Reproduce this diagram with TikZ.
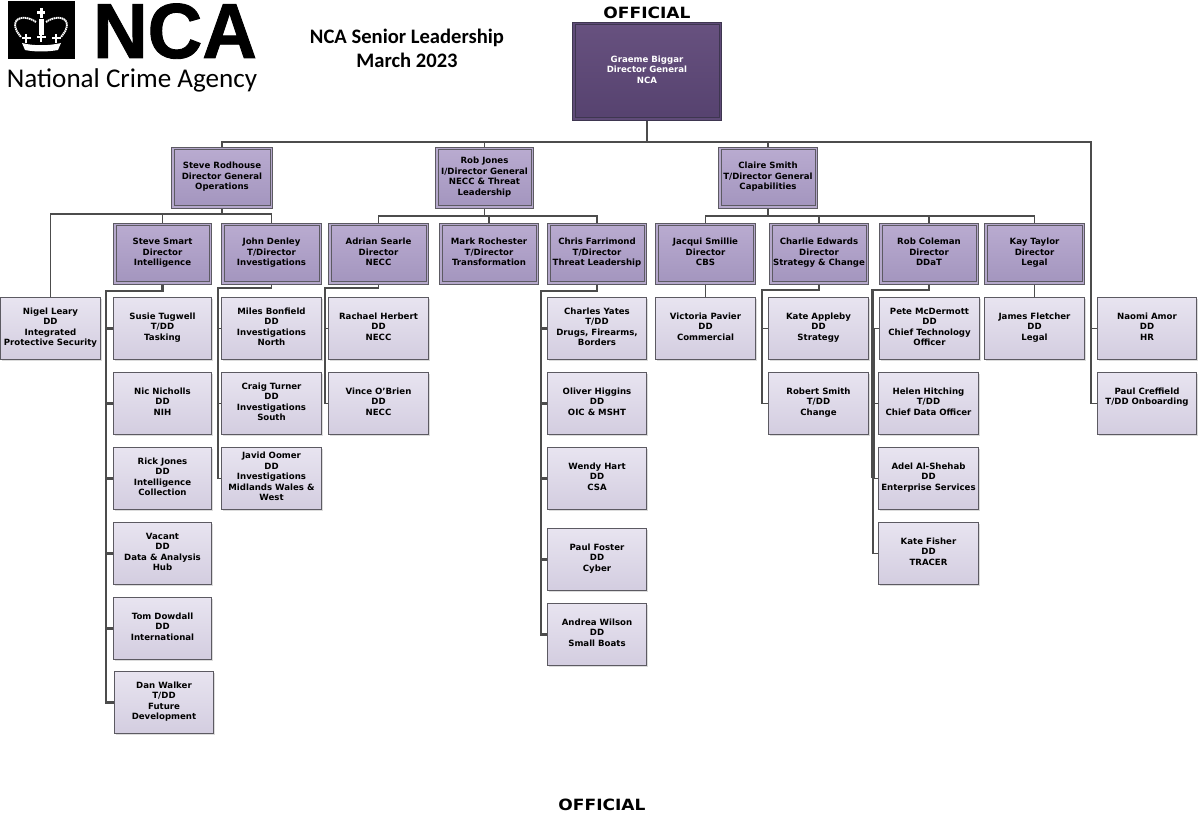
\documentclass[tikz,border=0pt]{standalone}
\usepackage{fontspec}
\usetikzlibrary{shadows,backgrounds}
\setmainfont{DejaVu Sans}
\newfontfamily\calib{Carlito}
\newfontfamily\heavy[FakeBold=1.2]{Liberation Sans Bold}
\definecolor{conncol}{HTML}{4C4C4C}
\definecolor{edge}{HTML}{5C5A62}
\tikzset{
 x=1pt,y=-1pt,
 conn/.style={draw=conncol,line width=1.5pt},
 connb/.style={draw=conncol,line width=2.1pt},
 base/.style={inner sep=0pt,align=center,font=\bfseries\fontsize{8.6}{10.5}\selectfont,
   drop shadow={shadow xshift=1.5pt,shadow yshift=-1.5pt,fill=black!45,opacity=.3}},
 leafbox/.style={base,draw=edge,line width=1pt,top color=leaftop,bottom color=leafbot},
 dirbox/.style={base,draw=edge,line width=1pt,double=dirband,double distance=1.5pt,top color=dirtop,bottom color=dirbot},
 dgbox/.style={base,draw=dgedge,line width=1pt,double=dgband,double distance=1.5pt,top color=dgtop,bottom color=dgbot,text=white},
}
\definecolor{leaftop}{HTML}{E8E4F0}
\definecolor{leafbot}{HTML}{D3CDE0}
\definecolor{dirtop}{HTML}{B9ABD0}
\definecolor{dirbot}{HTML}{A395BE}
\definecolor{dirband}{HTML}{B5A8CB}
\definecolor{dgtop}{HTML}{67517F}
\definecolor{dgbot}{HTML}{56426F}
\definecolor{dgband}{HTML}{5F4B78}
\definecolor{dgedge}{HTML}{3E3650}
\newcommand\tx[1]{\begin{tabular}{@{}c@{}}#1\\[1.6pt]\end{tabular}}
\newcommand\bx[8]{\node[#1,minimum width={(#6-#4-#2)*1pt},minimum height={(#7-#5-#2)*1pt}] (#3) at ({(#4+#6)/2},{(#5+#7)/2}) {\tx{#8}};}
\newcommand\dbx[7][dirbox]{\bx{#1}{3.5}{#2}{#3}{#4}{#5}{#6}{#7}}
\newcommand\lbx[6]{\bx{leafbox}{1}{#1}{#2}{#3}{#4}{#5}{#6}}
\newcommand\rep[5][conn]{\draw[#1] (#2.south) -- (#2.south |- 0,#3) -- (#4,#3) |- (#5.west);}
\newcommand\drp[3]{\draw[conn] (#1.south) -- (#1.south |- 0,#2) -| (#3.north);}
\begin{document}
\begin{tikzpicture}
\useasboundingbox (0,0) rectangle (1200,818);
% logo
\fill[black] (8,1) rectangle (75,59);
\begin{scope}[white]
 \fill (39.5,8) rectangle (42.5,18);
 \fill (37,11) rectangle (45,14);
 \fill (38.5,19) rectangle (43.5,35);
 \draw[line width=1.9pt,dash pattern=on 1.5pt off .6pt] (36,22) .. controls (29,17) and (17,15) .. (15,24) .. controls (15,30) and (18,33) .. (21,37);
 \draw[line width=1.9pt,dash pattern=on 1.5pt off .6pt] (46,22) .. controls (53,17) and (65,15) .. (67,24) .. controls (67,30) and (64,33) .. (61,37);
 \fill (22,43) .. controls (33,46) and (49,46) .. (61,43) -- (58,50) .. controls (47,52) and (35,52) .. (25,50) -- cycle;
 \foreach \cx/\cy in {26/38,41/37,56/38}{
   \fill (\cx-1.2,\cy-3.5) rectangle (\cx+1.2,\cy+5);
   \fill (\cx-4.5,\cy-1) rectangle (\cx+4.5,\cy+1.4);
 }
\end{scope}
\node[inner sep=0pt,font=\heavy\fontsize{78}{78}\selectfont,xscale=.97,text height=55pt,text depth=0pt,anchor=center] (nca) at (175,30.5) {NCA};
\node[inner sep=0pt,font=\calib\fontsize{27.1}{27.1}\selectfont,anchor=center] (ncaname) at (132,80) {National Crime Agency};
\node[inner sep=0pt,font=\calib\bfseries\fontsize{20.6}{24}\selectfont,align=center] (title) at (407,48) {NCA Senior Leadership\\March 2023};
\node[inner sep=0pt,font=\bfseries\fontsize{15.5}{15.5}\selectfont,xscale=1.1] (off1) at (647,13) {OFFICIAL};
\node[inner sep=0pt,font=\bfseries\fontsize{15.5}{15.5}\selectfont,xscale=1.1] (off2) at (602,805) {OFFICIAL};
% boxes
\dbx[dgbox]{dg}{572}{22}{722}{121}{Graeme Biggar\\Director General\\NCA}
\dbx{sr}{171}{147}{273}{209}{Steve Rodhouse\\Director General\\Operations}
\dbx{rj}{435}{147}{534}{209}{Rob Jones\\I/Director General\\NECC \& Threat\\Leadership}
\dbx{cs}{718}{147}{818}{209}{Claire Smith\\T/Director General\\Capabilities}
\dbx{ss}{113}{223}{212}{285}{Steve Smart\\Director\\Intelligence}
\dbx{jd}{221}{223}{322}{285}{John Denley\\T/Director\\Investigations}
\dbx{as}{328}{223}{429}{285}{Adrian Searle\\Director\\NECC}
\dbx{mr}{439}{223}{539}{285}{Mark Rochester\\T/Director\\Transformation}
\dbx{cf}{547}{223}{647}{285}{Chris Farrimond\\T/Director\\Threat Leadership}
\dbx{js}{655}{223}{756}{285}{Jacqui Smillie\\Director\\CBS}
\dbx{ce}{769}{223}{869}{285}{Charlie Edwards\\Director\\Strategy \& Change}
\dbx{rc}{879}{223}{979}{285}{Rob Coleman\\Director\\DDaT}
\dbx{kt}{984}{223}{1085}{285}{Kay Taylor\\Director\\Legal}
\lbx{nl}{0}{297}{101}{360}{Nigel Leary\\DD\\Integrated\\Protective Security}
\lbx{st}{113}{297}{212}{360}{Susie Tugwell\\T/DD\\Tasking}
\lbx{nn}{113}{372}{212}{435}{Nic Nicholls\\DD\\NIH}
\lbx{rij}{113}{447}{212}{510}{Rick Jones\\DD\\Intelligence\\Collection}
\lbx{va}{113}{522}{212}{585}{Vacant\\DD\\Data \& Analysis\\Hub}
\lbx{td}{113}{597}{212}{660}{Tom Dowdall\\DD\\International}
\lbx{dw}{114}{671}{214}{734}{Dan Walker\\T/DD\\Future\\Development}
\lbx{mb}{221}{297}{322}{360}{Miles Bonfield\\DD\\Investigations\\North}
\lbx{ct}{221}{372}{322}{435}{Craig Turner\\DD\\Investigations\\South}
\lbx{jo}{221}{447}{322}{510}{Javid Oomer\\DD\\Investigations\\Midlands Wales \&\\West}
\lbx{rh}{328}{297}{429}{360}{Rachael Herbert\\DD\\NECC}
\lbx{vo}{328}{372}{429}{435}{Vince O'Brien\\DD\\NECC}
\lbx{cy}{547}{297}{647}{360}{Charles Yates\\T/DD\\Drugs, Firearms,\\Borders}
\lbx{oh}{547}{372}{647}{435}{Oliver Higgins\\DD\\OIC \& MSHT}
\lbx{wh}{547}{447}{647}{510}{Wendy Hart\\DD\\CSA}
\lbx{pf}{547}{528}{647}{591}{Paul Foster\\DD\\Cyber}
\lbx{aw}{547}{603}{647}{666}{Andrea Wilson\\DD\\Small Boats}
\lbx{vp}{655}{297}{756}{360}{Victoria Pavier\\DD\\Commercial}
\lbx{ka}{768}{297}{869}{360}{Kate Appleby\\DD\\Strategy}
\lbx{rs}{768}{372}{869}{435}{Robert Smith\\T/DD\\Change}
\lbx{pm}{879}{297}{980}{360}{Pete McDermott\\DD\\Chief Technology\\Officer}
\lbx{hh}{878}{372}{979}{435}{Helen Hitching\\T/DD\\Chief Data Officer}
\lbx{aa}{878}{447}{979}{510}{Adel Al-Shehab\\DD\\Enterprise Services}
\lbx{kf}{878}{522}{979}{585}{Kate Fisher\\DD\\TRACER}
\lbx{jf}{984}{297}{1085}{360}{James Fletcher\\DD\\Legal}
\lbx{na}{1097}{297}{1197}{360}{Naomi Amor\\DD\\HR}
\lbx{pc}{1097}{372}{1197}{435}{Paul Creffield\\T/DD Onboarding\\\strut}
% connectors
\begin{scope}[on background layer]
\foreach \c in {sr,rj,cs}{\drp{dg}{142}{\c}}
\draw[conn] (dg.south) -- (dg.south |- 0,142) -- (1091,142) |- (na.west);
\draw[conn] (1091,142) |- (pc.west);
\foreach \c in {ss,jd}{\drp{sr}{214}{\c}}
\drp{sr}{214}{nl}
\foreach \c in {as,mr,cf}{\drp{rj}{216}{\c}}
\foreach \c in {js,ce,rc,kt}{\drp{cs}{216}{\c}}
\draw[conn] (js) -- (vp);
\draw[conn] (kt) -- (jf);
\foreach \c in {st,nn,rij,va,td,dw}{\rep[connb]{ss}{291}{106}{\c}}
\foreach \c in {mb,ct,jo}{\rep{jd}{288}{218}{\c}}
\foreach \c in {rh,vo}{\rep{as}{288}{325}{\c}}
\foreach \c in {cy,oh,wh,pf,aw}{\rep[connb]{cf}{291}{541}{\c}}
\foreach \c in {ka,rs}{\rep{ce}{290}{762}{\c}}
\foreach \c in {hh,aa,kf}{\rep{rc}{290}{873}{\c}}
\draw[conn] (rc.south) -- (rc.south |- 0,290) -- (872,290) -- (872,478);
\draw[conn] (874,478) |- (pm.west);
\end{scope}
\end{tikzpicture}
\end{document}
